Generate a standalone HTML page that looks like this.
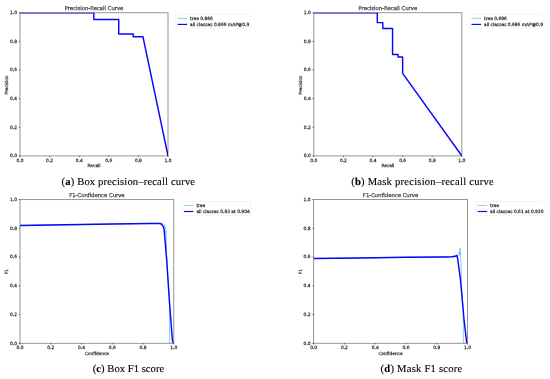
<!DOCTYPE html>
<html><head><meta charset="utf-8"><title>Figure</title>
<style>
html,body{margin:0;padding:0;background:#fff;}
body{width:550px;height:379px;overflow:hidden;}
svg{display:block;}
svg text{font-family:"DejaVu Sans","Liberation Sans",sans-serif;text-rendering:geometricPrecision;}
svg text.cap{font-family:"Liberation Serif","DejaVu Serif",serif;font-size:10.6px;fill:#000;letter-spacing:0.15px;stroke:#000;stroke-width:0.12px;}
</style></head><body>
<svg width="550" height="379" viewBox="0 0 550 379">
<rect width="550" height="379" fill="#fff"/>
<g>
<line x1="20.00" y1="155.8" x2="20.00" y2="157.20000000000002" stroke="#555" stroke-width="0.8"/>
<line x1="18.7" y1="155.90" x2="20.1" y2="155.90" stroke="#555" stroke-width="0.8"/>
<line x1="49.60" y1="155.8" x2="49.60" y2="157.20000000000002" stroke="#555" stroke-width="0.8"/>
<line x1="18.7" y1="127.27" x2="20.1" y2="127.27" stroke="#555" stroke-width="0.8"/>
<line x1="79.20" y1="155.8" x2="79.20" y2="157.20000000000002" stroke="#555" stroke-width="0.8"/>
<line x1="18.7" y1="98.64" x2="20.1" y2="98.64" stroke="#555" stroke-width="0.8"/>
<line x1="108.80" y1="155.8" x2="108.80" y2="157.20000000000002" stroke="#555" stroke-width="0.8"/>
<line x1="18.7" y1="70.01" x2="20.1" y2="70.01" stroke="#555" stroke-width="0.8"/>
<line x1="138.40" y1="155.8" x2="138.40" y2="157.20000000000002" stroke="#555" stroke-width="0.8"/>
<line x1="18.7" y1="41.38" x2="20.1" y2="41.38" stroke="#555" stroke-width="0.8"/>
<line x1="168.00" y1="155.8" x2="168.00" y2="157.20000000000002" stroke="#555" stroke-width="0.8"/>
<line x1="18.7" y1="12.75" x2="20.1" y2="12.75" stroke="#555" stroke-width="0.8"/>
<clipPath id="c1"><rect x="20.0" y="12.75" width="148.00" height="143.15"/></clipPath>
<g clip-path="url(#c1)">
<polyline points="20.00,12.75 93.85,12.75 93.85,19.48 118.72,19.48 118.72,34.08 133.22,34.08 133.22,36.80 142.99,36.80 168.00,155.90" fill="none" stroke="#0606fa" stroke-width="1.45" stroke-linejoin="round" stroke-linecap="butt"/>
</g>
<rect x="20.0" y="12.75" width="148.00" height="143.15" fill="none" stroke="#000" stroke-opacity="0.46" stroke-width="0.9"/>
<rect x="175.7" y="14.4" width="74.50" height="13.80" rx="1" fill="#fff" stroke="#e8e8e8" stroke-width="0.5"/>
<line x1="177.6" y1="18.3" x2="187.1" y2="18.3" stroke="#5bbde9" stroke-width="0.72"/>
<line x1="177.6" y1="24.4" x2="187.1" y2="24.4" stroke="#0606fa" stroke-width="1.15"/>
<line x1="313.80" y1="155.8" x2="313.80" y2="157.20000000000002" stroke="#555" stroke-width="0.8"/>
<line x1="312.5" y1="155.90" x2="313.90000000000003" y2="155.90" stroke="#555" stroke-width="0.8"/>
<line x1="343.41" y1="155.8" x2="343.41" y2="157.20000000000002" stroke="#555" stroke-width="0.8"/>
<line x1="312.5" y1="127.27" x2="313.90000000000003" y2="127.27" stroke="#555" stroke-width="0.8"/>
<line x1="373.02" y1="155.8" x2="373.02" y2="157.20000000000002" stroke="#555" stroke-width="0.8"/>
<line x1="312.5" y1="98.64" x2="313.90000000000003" y2="98.64" stroke="#555" stroke-width="0.8"/>
<line x1="402.63" y1="155.8" x2="402.63" y2="157.20000000000002" stroke="#555" stroke-width="0.8"/>
<line x1="312.5" y1="70.01" x2="313.90000000000003" y2="70.01" stroke="#555" stroke-width="0.8"/>
<line x1="432.24" y1="155.8" x2="432.24" y2="157.20000000000002" stroke="#555" stroke-width="0.8"/>
<line x1="312.5" y1="41.38" x2="313.90000000000003" y2="41.38" stroke="#555" stroke-width="0.8"/>
<line x1="461.85" y1="155.8" x2="461.85" y2="157.20000000000002" stroke="#555" stroke-width="0.8"/>
<line x1="312.5" y1="12.75" x2="313.90000000000003" y2="12.75" stroke="#555" stroke-width="0.8"/>
<clipPath id="c2"><rect x="313.8" y="12.75" width="148.05" height="143.15"/></clipPath>
<g clip-path="url(#c2)">
<polyline points="313.80,12.75 377.31,12.75 377.31,22.63 382.79,22.63 382.79,28.50 392.56,28.50 392.56,54.41 398.04,54.41 398.04,56.98 402.63,56.98 402.63,73.45 461.85,155.90" fill="none" stroke="#0606fa" stroke-width="1.45" stroke-linejoin="round" stroke-linecap="butt"/>
</g>
<rect x="313.8" y="12.75" width="148.05" height="143.15" fill="none" stroke="#000" stroke-opacity="0.46" stroke-width="0.9"/>
<rect x="469.6" y="14.4" width="74.30" height="13.80" rx="1" fill="#fff" stroke="#e8e8e8" stroke-width="0.5"/>
<line x1="471.5" y1="18.3" x2="481.0" y2="18.3" stroke="#5bbde9" stroke-width="0.72"/>
<line x1="471.5" y1="24.4" x2="481.0" y2="24.4" stroke="#0606fa" stroke-width="1.15"/>
<line x1="20.00" y1="343.2" x2="20.00" y2="344.6" stroke="#555" stroke-width="0.8"/>
<line x1="18.7" y1="343.30" x2="20.1" y2="343.30" stroke="#555" stroke-width="0.8"/>
<line x1="50.75" y1="343.2" x2="50.75" y2="344.6" stroke="#555" stroke-width="0.8"/>
<line x1="18.7" y1="314.56" x2="20.1" y2="314.56" stroke="#555" stroke-width="0.8"/>
<line x1="81.50" y1="343.2" x2="81.50" y2="344.6" stroke="#555" stroke-width="0.8"/>
<line x1="18.7" y1="285.82" x2="20.1" y2="285.82" stroke="#555" stroke-width="0.8"/>
<line x1="112.25" y1="343.2" x2="112.25" y2="344.6" stroke="#555" stroke-width="0.8"/>
<line x1="18.7" y1="257.08" x2="20.1" y2="257.08" stroke="#555" stroke-width="0.8"/>
<line x1="143.00" y1="343.2" x2="143.00" y2="344.6" stroke="#555" stroke-width="0.8"/>
<line x1="18.7" y1="228.34" x2="20.1" y2="228.34" stroke="#555" stroke-width="0.8"/>
<line x1="173.75" y1="343.2" x2="173.75" y2="344.6" stroke="#555" stroke-width="0.8"/>
<line x1="18.7" y1="199.60" x2="20.1" y2="199.60" stroke="#555" stroke-width="0.8"/>
<clipPath id="c3"><rect x="20.0" y="199.6" width="153.75" height="143.70"/></clipPath>
<g clip-path="url(#c3)">
<polyline points="20.00,225.47 66.12,224.75 112.25,224.03 150.69,223.45 162.22,223.17 164.06,224.32 164.99,227.62 165.45,226.62 165.75,232.65 166.22,231.21 166.37,237.68 166.52,249.89 166.83,260.67 169.35,300.19 169.48,311.69 169.54,343.30 173.75,343.30" fill="none" stroke="#5bbde9" stroke-width="0.72" stroke-linejoin="round"/>
<polyline points="20.00,225.47 66.12,224.75 112.25,224.03 150.69,223.45 159.14,223.45 160.99,223.89 162.37,225.18 163.30,226.90 164.11,229.42 166.75,260.67 169.35,300.19 172.37,339.99 173.13,342.58 173.75,343.30" fill="none" stroke="#0606fa" stroke-width="1.45" stroke-linejoin="round" stroke-linecap="butt"/>
</g>
<rect x="20.0" y="199.6" width="153.75" height="143.70" fill="none" stroke="#000" stroke-opacity="0.46" stroke-width="0.9"/>
<rect x="182" y="201.5" width="68.80" height="14.00" rx="1" fill="#fff" stroke="#e8e8e8" stroke-width="0.5"/>
<line x1="183.9" y1="205.4" x2="193.4" y2="205.4" stroke="#5bbde9" stroke-width="0.72"/>
<line x1="183.9" y1="211.5" x2="193.4" y2="211.5" stroke="#0606fa" stroke-width="1.15"/>
<line x1="313.65" y1="343.2" x2="313.65" y2="344.6" stroke="#555" stroke-width="0.8"/>
<line x1="312.34999999999997" y1="343.30" x2="313.75" y2="343.30" stroke="#555" stroke-width="0.8"/>
<line x1="344.42" y1="343.2" x2="344.42" y2="344.6" stroke="#555" stroke-width="0.8"/>
<line x1="312.34999999999997" y1="314.55" x2="313.75" y2="314.55" stroke="#555" stroke-width="0.8"/>
<line x1="375.19" y1="343.2" x2="375.19" y2="344.6" stroke="#555" stroke-width="0.8"/>
<line x1="312.34999999999997" y1="285.80" x2="313.75" y2="285.80" stroke="#555" stroke-width="0.8"/>
<line x1="405.96" y1="343.2" x2="405.96" y2="344.6" stroke="#555" stroke-width="0.8"/>
<line x1="312.34999999999997" y1="257.05" x2="313.75" y2="257.05" stroke="#555" stroke-width="0.8"/>
<line x1="436.73" y1="343.2" x2="436.73" y2="344.6" stroke="#555" stroke-width="0.8"/>
<line x1="312.34999999999997" y1="228.30" x2="313.75" y2="228.30" stroke="#555" stroke-width="0.8"/>
<line x1="467.50" y1="343.2" x2="467.50" y2="344.6" stroke="#555" stroke-width="0.8"/>
<line x1="312.34999999999997" y1="199.55" x2="313.75" y2="199.55" stroke="#555" stroke-width="0.8"/>
<clipPath id="c4"><rect x="313.65" y="199.55" width="153.85" height="143.75"/></clipPath>
<g clip-path="url(#c4)">
<polyline points="313.65,258.49 359.81,257.91 405.96,257.34 444.42,256.91 452.12,256.76 455.96,256.04 457.96,254.18 458.88,255.33 459.35,251.30 459.65,253.46 460.12,247.85 460.27,255.61 460.58,252.74 460.73,258.49 461.19,266.39 461.27,282.93 463.12,307.36 463.32,315.99 463.35,343.30 467.50,343.30" fill="none" stroke="#5bbde9" stroke-width="0.72" stroke-linejoin="round"/>
<polyline points="313.65,258.49 359.81,257.91 405.96,257.34 444.42,256.91 452.12,256.76 455.19,256.33 457.01,255.51 457.65,258.49 460.50,279.94 464.05,319.97 466.58,341.57 467.04,343.30 467.50,343.30" fill="none" stroke="#0606fa" stroke-width="1.45" stroke-linejoin="round" stroke-linecap="butt"/>
</g>
<rect x="313.65" y="199.55" width="153.85" height="143.75" fill="none" stroke="#000" stroke-opacity="0.46" stroke-width="0.9"/>
<rect x="475.7" y="201.5" width="68.30" height="14.00" rx="1" fill="#fff" stroke="#e8e8e8" stroke-width="0.5"/>
<line x1="477.59999999999997" y1="205.4" x2="487.09999999999997" y2="205.4" stroke="#5bbde9" stroke-width="0.72"/>
<line x1="477.59999999999997" y1="211.5" x2="487.09999999999997" y2="211.5" stroke="#0606fa" stroke-width="1.15"/>
</g>
<g fill="#1a1a1a" fill-opacity="0.15" stroke="#151515" stroke-width="0.3">
<text x="20.0" y="161.5" font-size="4.4" text-anchor="middle">0.0</text>
<text x="16.95" y="157.2" font-size="4.4" text-anchor="end">0.0</text>
<text x="49.6" y="161.5" font-size="4.4" text-anchor="middle">0.2</text>
<text x="16.95" y="128.57" font-size="4.4" text-anchor="end">0.2</text>
<text x="79.2" y="161.5" font-size="4.4" text-anchor="middle">0.4</text>
<text x="16.95" y="99.94" font-size="4.4" text-anchor="end">0.4</text>
<text x="108.8" y="161.5" font-size="4.4" text-anchor="middle">0.6</text>
<text x="16.95" y="71.31" font-size="4.4" text-anchor="end">0.6</text>
<text x="138.4" y="161.5" font-size="4.4" text-anchor="middle">0.8</text>
<text x="16.95" y="42.68" font-size="4.4" text-anchor="end">0.8</text>
<text x="168.0" y="161.5" font-size="4.4" text-anchor="middle">1.0</text>
<text x="16.95" y="14.05" font-size="4.4" text-anchor="end">1.0</text>
<text x="94.0" y="10.1" font-size="5.3" text-anchor="middle">Precision-Recall Curve</text>
<text x="94.0" y="167.2" font-size="4.3" text-anchor="middle">Recall</text>
<text x="7.7" y="85.03" font-size="4.3" text-anchor="middle" transform="rotate(-90 7.7 85.03)">Precision</text>
<text x="190.1" y="19.7" font-size="4.4" text-anchor="start">tree 0.866</text>
<text x="190.1" y="25.8" font-size="4.4" text-anchor="start">all classes 0.866 mAP@0.9</text>
<text x="313.8" y="161.5" font-size="4.4" text-anchor="middle">0.0</text>
<text x="310.75" y="157.2" font-size="4.4" text-anchor="end">0.0</text>
<text x="343.41" y="161.5" font-size="4.4" text-anchor="middle">0.2</text>
<text x="310.75" y="128.57" font-size="4.4" text-anchor="end">0.2</text>
<text x="373.02" y="161.5" font-size="4.4" text-anchor="middle">0.4</text>
<text x="310.75" y="99.94" font-size="4.4" text-anchor="end">0.4</text>
<text x="402.63" y="161.5" font-size="4.4" text-anchor="middle">0.6</text>
<text x="310.75" y="71.31" font-size="4.4" text-anchor="end">0.6</text>
<text x="432.24" y="161.5" font-size="4.4" text-anchor="middle">0.8</text>
<text x="310.75" y="42.68" font-size="4.4" text-anchor="end">0.8</text>
<text x="461.85" y="161.5" font-size="4.4" text-anchor="middle">1.0</text>
<text x="310.75" y="14.05" font-size="4.4" text-anchor="end">1.0</text>
<text x="387.83" y="10.1" font-size="5.3" text-anchor="middle">Precision-Recall Curve</text>
<text x="387.83" y="167.2" font-size="4.3" text-anchor="middle">Recall</text>
<text x="302.1" y="85.03" font-size="4.3" text-anchor="middle" transform="rotate(-90 302.1 85.03)">Precision</text>
<text x="484.0" y="19.7" font-size="4.4" text-anchor="start">tree 0.686</text>
<text x="484.0" y="25.8" font-size="4.4" text-anchor="start">all classes 0.686 mAP@0.9</text>
<text x="20.0" y="348.85" font-size="4.4" text-anchor="middle">0.0</text>
<text x="16.95" y="344.6" font-size="4.4" text-anchor="end">0.0</text>
<text x="50.75" y="348.85" font-size="4.4" text-anchor="middle">0.2</text>
<text x="16.95" y="315.86" font-size="4.4" text-anchor="end">0.2</text>
<text x="81.5" y="348.85" font-size="4.4" text-anchor="middle">0.4</text>
<text x="16.95" y="287.12" font-size="4.4" text-anchor="end">0.4</text>
<text x="112.25" y="348.85" font-size="4.4" text-anchor="middle">0.6</text>
<text x="16.95" y="258.38" font-size="4.4" text-anchor="end">0.6</text>
<text x="143.0" y="348.85" font-size="4.4" text-anchor="middle">0.8</text>
<text x="16.95" y="229.64" font-size="4.4" text-anchor="end">0.8</text>
<text x="173.75" y="348.85" font-size="4.4" text-anchor="middle">1.0</text>
<text x="16.95" y="200.9" font-size="4.4" text-anchor="end">1.0</text>
<text x="96.88" y="196.95" font-size="5.3" text-anchor="middle">F1-Confidence Curve</text>
<text x="96.88" y="354.6" font-size="4.3" text-anchor="middle">Confidence</text>
<text x="7.7" y="271.75" font-size="4.3" text-anchor="middle" transform="rotate(-90 7.7 271.75)">F1</text>
<text x="196.4" y="206.8" font-size="4.4" text-anchor="start">tree</text>
<text x="196.4" y="212.9" font-size="4.4" text-anchor="start">all classes 0.83 at 0.904</text>
<text x="313.65" y="348.85" font-size="4.4" text-anchor="middle">0.0</text>
<text x="310.6" y="344.6" font-size="4.4" text-anchor="end">0.0</text>
<text x="344.42" y="348.85" font-size="4.4" text-anchor="middle">0.2</text>
<text x="310.6" y="315.85" font-size="4.4" text-anchor="end">0.2</text>
<text x="375.19" y="348.85" font-size="4.4" text-anchor="middle">0.4</text>
<text x="310.6" y="287.1" font-size="4.4" text-anchor="end">0.4</text>
<text x="405.96" y="348.85" font-size="4.4" text-anchor="middle">0.6</text>
<text x="310.6" y="258.35" font-size="4.4" text-anchor="end">0.6</text>
<text x="436.73" y="348.85" font-size="4.4" text-anchor="middle">0.8</text>
<text x="310.6" y="229.6" font-size="4.4" text-anchor="end">0.8</text>
<text x="467.5" y="348.85" font-size="4.4" text-anchor="middle">1.0</text>
<text x="310.6" y="200.85" font-size="4.4" text-anchor="end">1.0</text>
<text x="390.57" y="196.9" font-size="5.3" text-anchor="middle">F1-Confidence Curve</text>
<text x="390.57" y="354.6" font-size="4.3" text-anchor="middle">Confidence</text>
<text x="301.75" y="271.73" font-size="4.3" text-anchor="middle" transform="rotate(-90 301.75 271.73)">F1</text>
<text x="490.1" y="206.8" font-size="4.4" text-anchor="start">tree</text>
<text x="490.1" y="212.9" font-size="4.4" text-anchor="start">all classes 0.61 at 0.930</text>
</g>
<text x="128.4" y="185.4" text-anchor="middle" class="cap" style="letter-spacing:0.15px">(<tspan font-weight="bold">a</tspan>) Box precision–recall curve</text>
<text x="422.5" y="185.4" text-anchor="middle" class="cap" style="letter-spacing:0.23px">(<tspan font-weight="bold">b</tspan>) Mask precision–recall curve</text>
<text x="128.5" y="371.6" text-anchor="middle" class="cap" style="letter-spacing:0.03px">(<tspan font-weight="bold">c</tspan>) Box F1 score</text>
<text x="421.5" y="371.6" text-anchor="middle" class="cap" style="letter-spacing:0.24px">(<tspan font-weight="bold">d</tspan>) Mask F1 score</text>
</svg>
</body></html>
